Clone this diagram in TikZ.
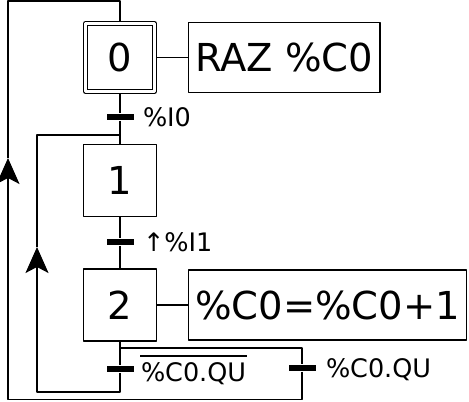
\documentclass[tikz,border=0pt]{standalone}
\usepackage{fontspec}
\setmainfont{DejaVu Sans}
\usetikzlibrary{arrows.meta,positioning}

\begin{document}
\begin{tikzpicture}[x=1pt,y=-1pt,line width=1.5pt,join=round,%
  etape/.style={draw,line width=1.4pt,minimum width=72.5pt,minimum height=72pt,inner sep=0pt,font=\fontsize{38.5}{40}\selectfont},%
  etapeinit/.style={etape,double,double distance=2.4pt,line width=1.3pt,minimum width=69pt,minimum height=68pt,outer sep=2.5pt},%
  action/.style={draw,line width=1.4pt,minimum height=70pt,inner xsep=6.5pt,inner ysep=0pt,font=\fontsize{38.5}{40}\selectfont},%
  barre/.style={fill,minimum width=27pt,minimum height=6pt,inner sep=0pt},%
  recep/.style={inner sep=0pt,font=\fontsize{25.5}{28}\selectfont},%
  fleche/.style={arrows={-Stealth[length=26pt,width=23pt,inset=6pt]}}]%
\useasboundingbox (0,0) rectangle (469,402);%
% steps
\node[etapeinit] (s0) at (120,57.5) {0};%
\node[etape] (s1) at (120,180.5) {1};%
\node[etape] (s2) at (120,305) {2};%
% actions
\node[action,right=31pt of s0] (a0) {RAZ \%C0};%
\node[action,right=31pt of s2] (a2) {\%C0=\%C0+1};%
\draw (s0) -- (a0) (s2) -- (a2);%
% transitions
\node[barre] (t0) at (120,117) {};%
\node[barre] (t1) at (120,242) {};%
\node[barre] (t2) at (120,369) {};%
\node[barre] (t3) at (302,368) {};%
\node[recep,right=8pt of t0] (r0) {\%I0};%
\node[recep,right=8pt of t1] (r1) {↑\%I1};%
\node[recep,right=6pt of t2,yshift=-5pt] (r2) {\%C0.QU};%
\draw[line width=2pt] ([yshift=6pt]r2.north west) -- ([yshift=6pt]r2.north east);%
\node[recep,right=9pt of t3,yshift=-2pt] (r3) {\%C0.QU};%
% links
\coordinate (j1) at (120,135);%
\coordinate (j2) at (120,348);%
\coordinate (bg) at (8,399.5);%
\coordinate (hg) at (8,1);%
\coordinate (f0) at (8,158);%
\coordinate (ib) at (37,392);%
\coordinate (f1) at (37,247);%
\draw (s0) -- (t0) -- (s1) (s1) -- (t1) -- (s2) (s2) -- (t2);%
% loop back to 1
\draw[fleche] (t2) |- (ib) -- (f1);%
\draw (f1) |- (j1);%
% loop back to 0
\draw (j2) -| (t3);%
\draw[fleche] (t3) |- (bg) -- (f0);%
\draw (f0) -- (hg) -| (s0);%
\end{tikzpicture}
\end{document}
